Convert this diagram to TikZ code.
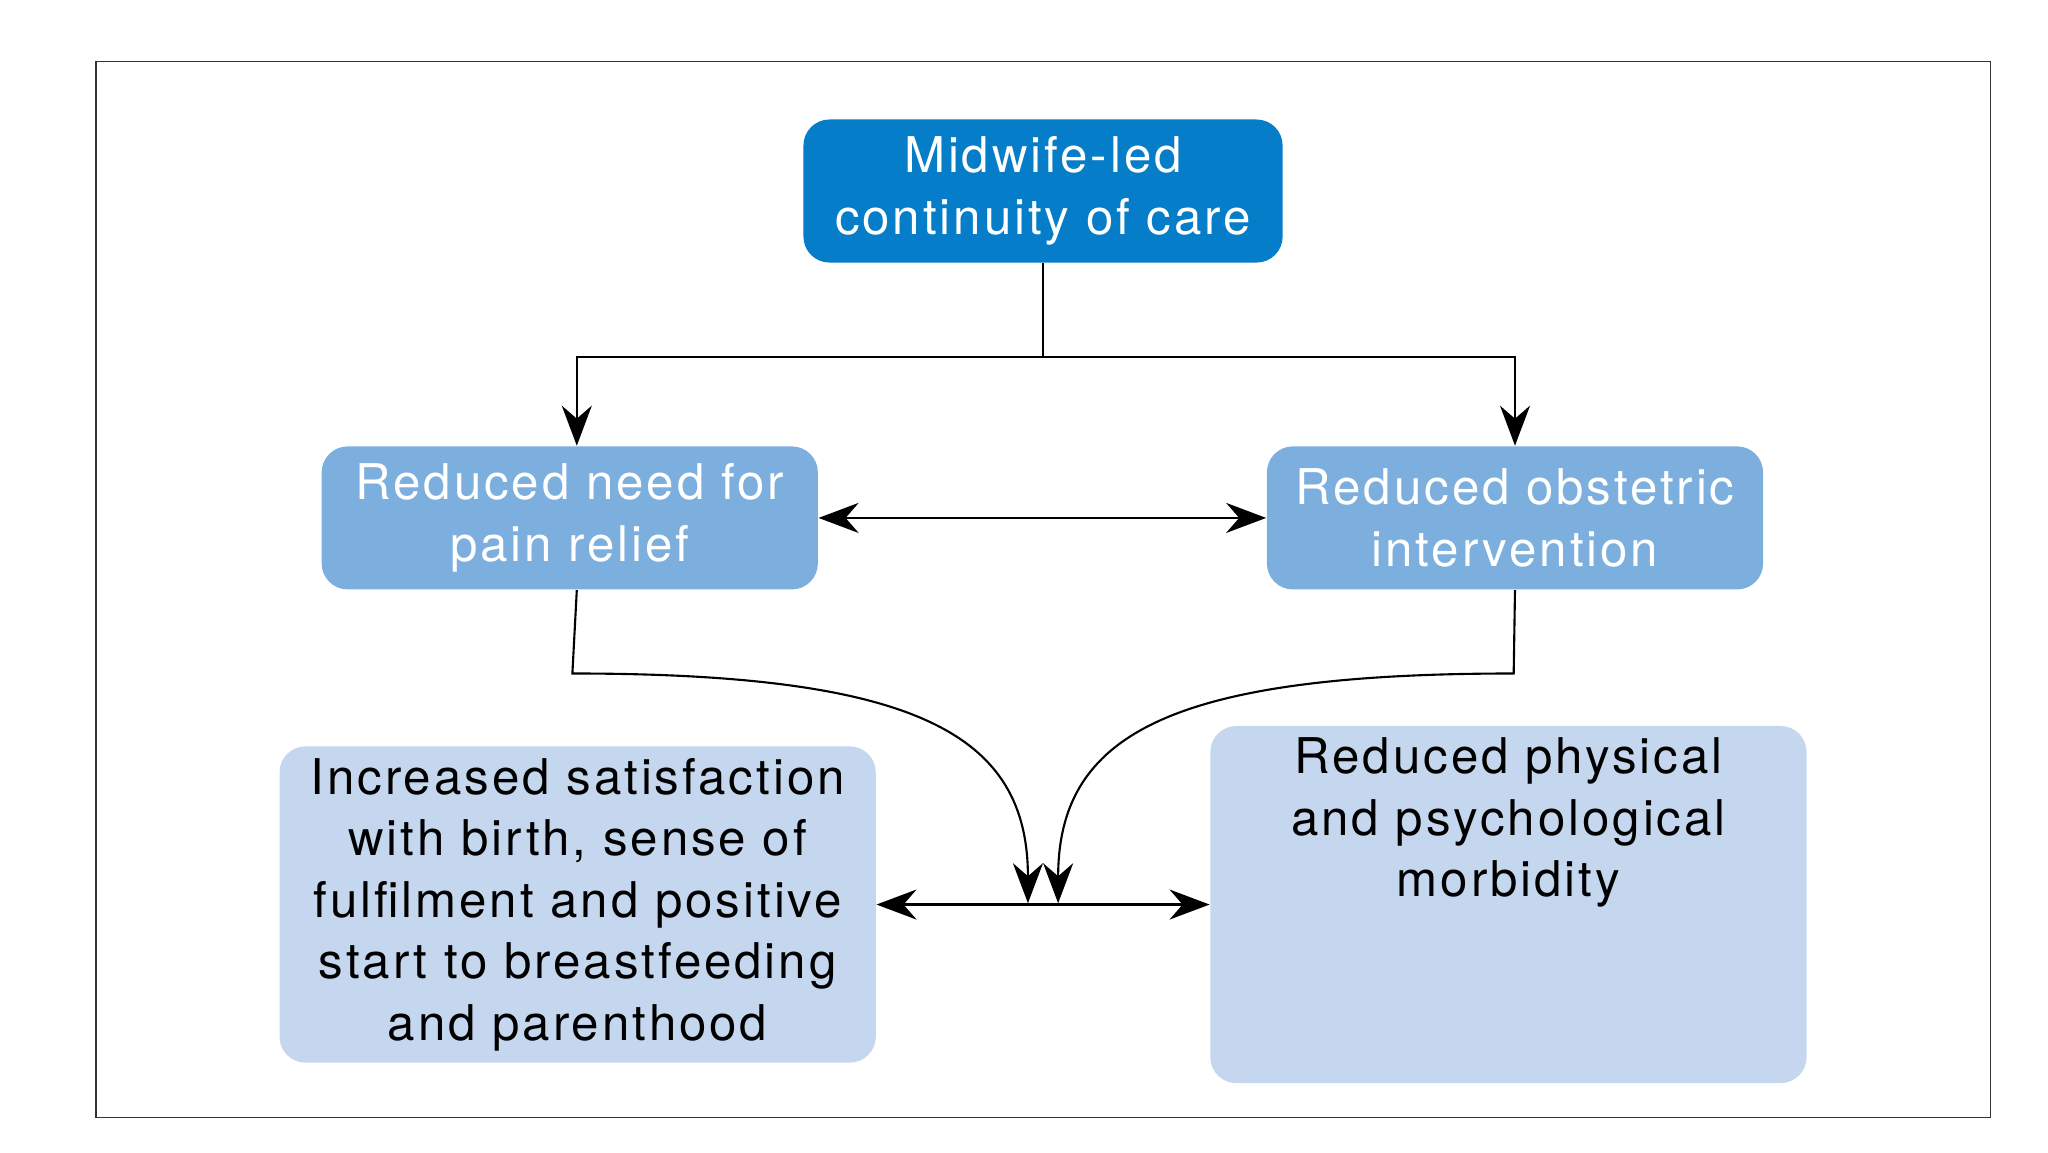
\documentclass[tikz,border=0pt]{standalone}
\usepackage{fontspec}
\setmainfont{TeX Gyre Heros}
\usetikzlibrary{arrows.meta, positioning, calc}
\definecolor{topblue}{RGB}{5,125,200}
\definecolor{midblue}{RGB}{125,175,222}
\definecolor{lowblue}{RGB}{197,215,238}
\begin{document}
\begin{tikzpicture}[
  x=0.013128cm, y=-0.013128cm,
  >={Stealth[length=4mm,width=3mm]},
  topnode/.style={rectangle, rounded corners=2.6mm, fill=topblue, text=white, minimum width=4.79cm, minimum height=1.43cm, font=\fontsize{14}{17.5}\selectfont\addfontfeature{LetterSpace=6}, align=center},
  midnode/.style={rectangle, rounded corners=2.6mm, fill=midblue, text=white, minimum width=4.96cm, minimum height=1.43cm, font=\fontsize{14}{17.5}\selectfont\addfontfeature{LetterSpace=6}, align=center},
  lownode/.style={rectangle, rounded corners=2.6mm, fill=lowblue, text=black, minimum width=5.96cm, minimum height=3.1cm, font=\fontsize{14}{17.5}\selectfont\addfontfeature{LetterSpace=6}, align=center},
  link/.style={->, semithick, black}
]
\useasboundingbox (0,0) rectangle (1560,877.5);
\draw[thin, black!80] (73,47) rectangle (1516,851);

% boxes
\node[topnode] (care)  at (794.5,145.5) {Midwife-led\\continuity of care};
\node[midnode] (pain)  at (434,394.5) {Reduced need for\\pain relief};
\node[midnode] (obst)  at (1154,394.5) {Reduced obstetric\\intervention};
\node[lownode] (satis) at (440,689) {Increased satisfaction\\with birth, sense of\\fulfilment and positive\\start to breastfeeding\\and parenthood};
\node[lownode] (morb)  at (1149,689) {Reduced physical\\and psychological\\morbidity\\[2.3em]\mbox{}};

\coordinate (split) at (794.5,272);
\coordinate (hub)   at (794.5,689);

% flows
\draw[semithick] (care) -- (split);
\draw[link] (split) -| ([xshift=2pt]pain.north);
\draw[link] (split) -| (obst.north);
\draw[link, <->] (pain) -- (obst);
\draw[link] ([xshift=2pt]pain.south) -- (436,513) .. controls (700,513) and (783,560) .. (783,688);
\draw[link] (obst.south) -- (1153,513) .. controls (890,513) and (806,560) .. (806,688);
\draw[link] (hub) -- (satis.east);
\draw[link] (hub) -- (morb.west);
\end{tikzpicture}
\end{document}
